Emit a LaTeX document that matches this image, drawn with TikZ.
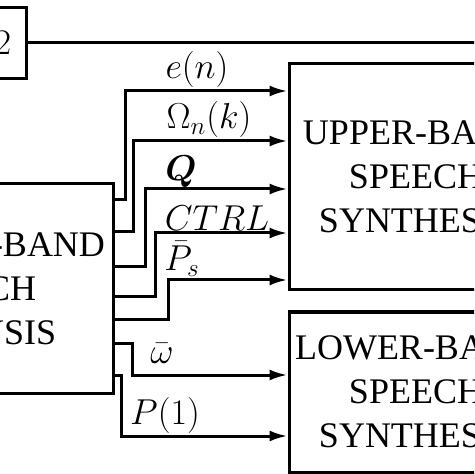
\documentclass[tikz,border=0pt]{standalone}
\usepackage{fix-cm}
\usepackage{amsmath,amssymb}
\usepackage{fontspec}
\setmainfont{Liberation Serif}
\usetikzlibrary{arrows.meta,positioning}

\begin{document}
\begin{tikzpicture}[x=0.5pt, y=-0.5pt, >={Latex[length=9pt,width=5.5pt]},
  font=\fontsize{18}{22}\selectfont,
  block/.style={draw, line width=1.5pt, align=center, inner sep=0pt},
  sig/.style={->, line width=1.5pt},
  lbl/.style={inner sep=0pt}]
\useasboundingbox (0,0) rectangle (474,474);
\clip (0,0) rectangle (474,474);
% blocks
\node[block, inner xsep=7.5pt, minimum height=35.5pt] (dec) at (3,43) {$2$};
\node[block, minimum width=144pt, minimum height=104.5pt] (ana) at (-31,288.5) {NARROW-BAND\\SPEECH\\ANALYSIS};
\node[block, minimum width=127pt, minimum height=113pt] (up) at (416,177) {UPPER-BAND\\SPEECH\\SYNTHESIS};
\node[block, minimum width=127pt, minimum height=80pt] (low) at (416,392) {LOWER-BAND\\SPEECH\\SYNTHESIS};
\coordinate (out) at (490,43);
\draw[line width=1.5pt] (dec.east) -- (out);
% parameter lines
\foreach \ys/\xv/\ye/\tgt in {200/125/91/up, 232/133/141/up, 267/145/189/up,
    297/155/233/up, 319/168/280/up, 343/132/375/low, 375/121/436/low}{
  \draw[sig] (ana.east |- 0,\ys) -| (\xv,\ye) -- (\tgt.west |- 0,\ye);
}
% labels
\node[lbl] (en) at (197,70) {$e(n)$};
\node[lbl] (om) at (209,120) {$\Omega_n(k)$};
\node[lbl] (q) at (181,172) {$\boldsymbol{Q}$};
\node[lbl] (ctrl) at (217,218) {$CTRL$};
\node[lbl] (ps) at (182,259) {$\bar{P}_s$};
\node[lbl] (w) at (162,353) {$\bar{\omega}$};
\node[lbl] (p1) at (165,415) {$P(1)$};
\end{tikzpicture}
\end{document}
